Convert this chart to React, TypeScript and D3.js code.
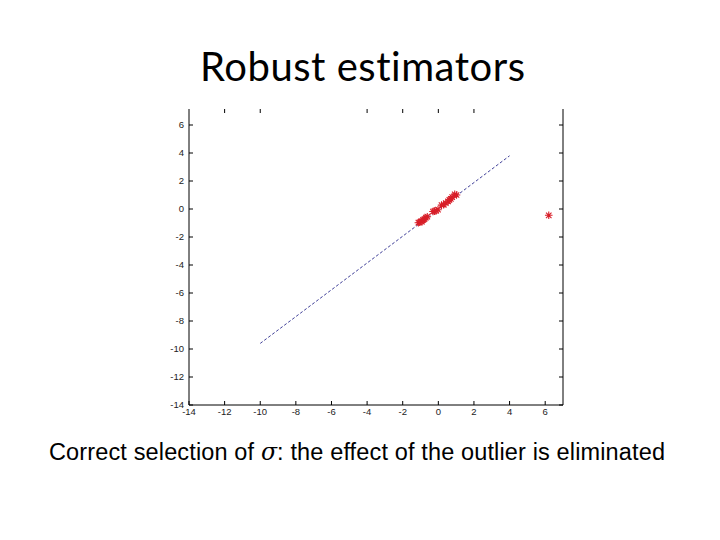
import * as d3 from 'd3'

// ── data ─────────────────────────────────────────────────────────────────────
const xTicks   = [-14, -12, -10, -8, -6, -4, -2, 0, 2, 4, 6]
const yTicks   = [-14, -12, -10, -8, -6, -4, -2, 0, 2, 4, 6]
const topTicks = [-12, -10, -4, -2, 0, 2]

// fitted line end points
const fitX = [-10, 4]
const fitY = [-9.6, 3.8]

// samples (inliers along the line, one outlier on the right)
const ptsX = [-1.12, -1.05, -0.98, -0.92, -0.85, -0.78, -0.7, -0.62, -0.3, -0.22, -0.12, -0.02, 0.18, 0.3, 0.42, 0.55, 0.62, 0.7, 0.78, 0.92, 1.02, 6.2]
const ptsY = [-0.98, -0.95, -0.88, -0.9, -0.78, -0.72, -0.62, -0.55, -0.18, -0.15, -0.12, -0.05, 0.28, 0.3, 0.42, 0.55, 0.65, 0.72, 0.85, 1.05, 1.0, -0.45]

const TITLE   = 'Robust estimators'
const CAPTION = ['Correct selection of ', 'σ', ': the effect of the outlier is eliminated']

// ── layout ───────────────────────────────────────────────────────────────────
const W = 720, H = 540
const P = { left: 189, right: 563, top: 111, bottom: 405 }
const TICK = 4
const AX = '#000'
const LBL = '#222'
const RED = '#d81e28'
const BLUE = '#2a2a8c'

function Star({ cx, cy }: { cx: number; cy: number }) {
  const r = 3.8, d = r * 0.72
  return (
    <path
      d={`M${cx - r},${cy}H${cx + r}M${cx},${cy - r}V${cy + r}M${cx - d},${cy - d}L${cx + d},${cy + d}M${cx - d},${cy + d}L${cx + d},${cy - d}`}
      stroke={RED} strokeWidth={1.1} fill="none"
    />
  )
}

export default function App() {
  const x = d3.scaleLinear().domain([-14, 7]).range([P.left, P.right])
  const y = d3.scaleLinear().domain([-14, 7]).range([P.bottom, P.top])

  const line = d3.line<number>().x(i => x(fitX[i])).y(i => y(fitY[i]))
  const labelFont = { fontFamily: '"Liberation Sans", Arial, sans-serif', fontSize: 9.5, fill: LBL }

  return (
    <div style={{ position: 'absolute', left: 0, top: 0 }}>
      <svg width={W} height={H} viewBox={`0 0 ${W} ${H}`} style={{ display: 'block', background: '#fff' }}>
        <text x={200} y={81} textLength={325} lengthAdjust="spacing"
          style={{ fontFamily: 'Lato, "Open Sans", sans-serif', fontSize: 40, fill: '#000', fontVariantLigatures: 'none' }}>
          {TITLE}
        </text>

        {/* frame: left, right, bottom (top edge cut off in the source) */}
        <line x1={P.left} x2={P.left} y1={P.top - 2} y2={P.bottom} stroke={AX} />
        <line x1={P.right} x2={P.right} y1={P.top - 2} y2={P.bottom} stroke={AX} />
        <line x1={P.left} x2={P.right} y1={P.bottom} y2={P.bottom} stroke={AX} />

        {/* x ticks */}
        {xTicks.map(v => (
          <g key={'x' + v}>
            <line x1={x(v)} x2={x(v)} y1={P.bottom} y2={P.bottom - TICK} stroke={AX} />
            <text x={x(v)} y={415} textAnchor="middle" style={labelFont}>{v}</text>
          </g>
        ))}
        {topTicks.map(v => (
          <line key={'t' + v} x1={x(v)} x2={x(v)} y1={P.top - 2} y2={P.top - 2 + TICK} stroke={AX} />
        ))}

        {/* y ticks */}
        {yTicks.map(v => (
          <g key={'y' + v}>
            <line x1={P.left} x2={P.left + TICK} y1={y(v)} y2={y(v)} stroke={AX} />
            <line x1={P.right} x2={P.right - TICK} y1={y(v)} y2={y(v)} stroke={AX} />
            <text x={P.left - 5} y={y(v) + 2.5} textAnchor="end" style={labelFont}>{v}</text>
          </g>
        ))}

        {/* fitted line */}
        <path d={line([0, 1]) ?? ''} stroke={BLUE} strokeWidth={0.9} strokeDasharray="3,2" fill="none" />

        {/* samples */}
        {ptsX.map((v, i) => <Star key={i} cx={x(v)} cy={y(ptsY[i])} />)}

        <text x={49} y={460} textLength={616} lengthAdjust="spacing"
          style={{ fontFamily: '"Liberation Sans", Arial, sans-serif', fontSize: 23.5, fill: '#000' }}>
          {CAPTION[0]}
          <tspan style={{ fontStyle: 'italic', fontFamily: '"DejaVu Serif", serif' }}>{CAPTION[1]}</tspan>
          {CAPTION[2]}
        </text>
      </svg>
    </div>
  )
}
